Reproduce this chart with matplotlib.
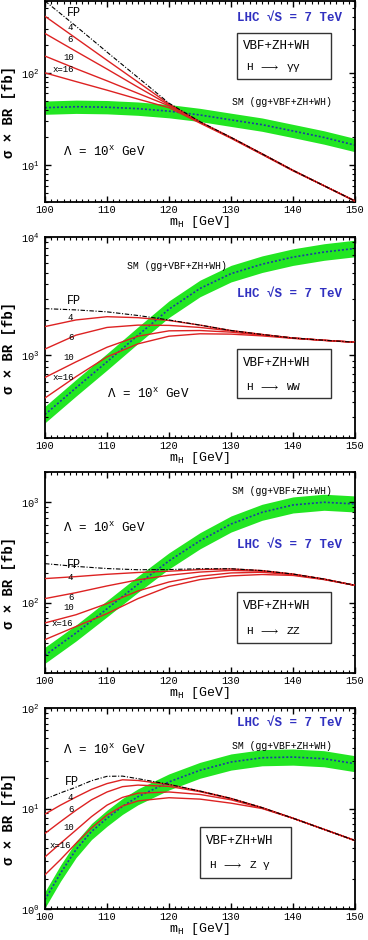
import matplotlib
matplotlib.use('Agg')
import matplotlib.pyplot as plt
from matplotlib.patches import Rectangle
from matplotlib.ticker import MultipleLocator, LogLocator, NullFormatter

plt.rcParams['font.family'] = ['Liberation Mono', 'DejaVu Sans Mono', 'DejaVu Sans']
plt.rcParams['mathtext.fontset'] = 'custom'
plt.rcParams['mathtext.rm'] = 'Liberation Mono'
plt.rcParams['mathtext.it'] = 'Liberation Mono'
plt.rcParams['mathtext.bf'] = 'Liberation Mono:bold'

# ---------------- data ----------------
mH = [100, 105, 110, 115, 120, 125, 130, 135, 140, 145, 150]
mH4 = [100, 102.5, 105, 107.5, 110, 112.5, 115, 120, 125, 130, 135, 140, 145, 150]
lam_labels = ['4', '6', '10', 'x=16']

# Panel 1: H -> gamma gamma
gg_fp = [600, 320, 168, 89, 47, 29.6, 20, 13.3, 8.8, 6.0, 4.1]
gg_x4 = [410, 237, 137, 79.5, 46, 29.5, 20, 13.3, 8.8, 6.0, 4.1]
gg_x6 = [267, 171, 110, 70, 45, 29.3, 19.9, 13.3, 8.8, 6.0, 4.1]
gg_x10 = [152, 111, 82, 60, 44, 29.0, 19.8, 13.2, 8.8, 6.0, 4.1]
gg_x16 = [100, 80.5, 65, 52, 42, 28.6, 19.6, 13.1, 8.7, 6.0, 4.1]
gg_sm = [42, 43, 42.5, 41, 38.5, 35, 31, 27.5, 23.5, 20, 16.5]
gg_sm_lo = [35.6, 36.4, 36.0, 34.7, 32.6, 29.7, 26.3, 23.3, 19.9, 16.9, 14.0]
gg_sm_hi = [49.6, 50.7, 50.2, 48.4, 45.4, 41.3, 36.6, 32.5, 27.7, 23.6, 19.5]

# Panel 2: H -> WW
ww_fp = [2480, 2420, 2330, 2170, 1990, 1800, 1620, 1500, 1400, 1340, 1290]
ww_x4 = [1750, 1990, 2120, 2080, 1970, 1800, 1620, 1500, 1400, 1340, 1290]
ww_x6 = [1130, 1480, 1720, 1800, 1790, 1720, 1610, 1500, 1400, 1340, 1290]
ww_x10 = [650, 880, 1170, 1450, 1610, 1620, 1570, 1480, 1400, 1340, 1290]
ww_x16 = [436, 660, 970, 1250, 1450, 1520, 1510, 1460, 1390, 1335, 1290]
ww_sm = [316, 531, 881, 1479, 2455, 3673, 4898, 5888, 6761, 7464, 7998]
ww_sm_lo = [269, 452, 750, 1259, 2089, 3126, 4169, 5011, 5754, 6352, 6807]
ww_sm_hi = [371, 624, 1035, 1738, 2885, 4316, 5755, 6918, 7944, 8770, 9398]

# Panel 3: H -> ZZ
zz_fp = [245, 230, 219, 213, 214, 218, 218, 209, 193, 172, 149]
zz_x4 = [174, 182, 192, 200, 206, 214, 217, 209, 193, 172, 149]
zz_x6 = [110, 126, 147, 169, 188, 202, 210, 206, 192, 172, 149]
zz_x10 = [63, 76, 98, 131, 161, 184, 198, 201, 190, 171, 149]
zz_x16 = [43, 58, 78, 110, 145, 170, 185, 191, 187, 170, 149]
zz_sm = [30, 50, 87, 153, 261, 414, 607, 794, 940, 1000, 962]
zz_sm_lo = [25.0, 41.6, 72.4, 127, 217, 344, 505, 661, 782, 832, 800]
zz_sm_hi = [36.1, 60.1, 105, 184, 314, 498, 730, 954, 1130, 1202, 1156]

# Panel 4: H -> Z gamma
zg_fp = [12.4, 14.3, 16.3, 18.9, 20.9, 21.0, 19.8, 17.4, 14.9, 12.6, 10.2, 8.0, 6.2, 4.8]
zg_x4 = [8.8, 10.8, 13.0, 15.5, 17.7, 19.3, 19.0, 17.3, 14.9, 12.6, 10.2, 8.0, 6.2, 4.8]
zg_x6 = [5.65, 7.4, 9.6, 12.2, 14.6, 16.5, 17.1, 16.6, 14.7, 12.5, 10.2, 8.0, 6.2, 4.8]
zg_x10 = [3.3, 4.5, 6.1, 8.3, 10.8, 12.9, 14.2, 14.6, 13.8, 12.2, 10.1, 8.0, 6.2, 4.8]
zg_x16 = [2.19, 3.1, 4.5, 6.4, 8.6, 10.6, 11.9, 12.8, 12.4, 11.3, 10.0, 8.0, 6.2, 4.8]
zg_sm = [1.24, 2.27, 3.9, 5.9, 8.0, 10.5, 13.1, 18.4, 24, 29, 32, 32.5, 31.3, 27.9]
zg_sm_lo = [1.03, 1.89, 3.24, 4.91, 6.66, 8.74, 10.9, 15.3, 20.0, 24.1, 26.6, 27.0, 26.0, 23.2]
zg_sm_hi = [1.49, 2.73, 4.69, 7.09, 9.62, 12.6, 15.7, 22.1, 28.8, 34.9, 38.5, 39.1, 37.6, 33.5]

panels = [
    dict(x=mH, fp=gg_fp, lines=[gg_x4, gg_x6, gg_x10, gg_x16], sm=gg_sm, lo=gg_sm_lo, hi=gg_sm_hi,
         ylim=(4, 600), decay=r'H $\longrightarrow$ γγ'),
    dict(x=mH, fp=ww_fp, lines=[ww_x4, ww_x6, ww_x10, ww_x16], sm=ww_sm, lo=ww_sm_lo, hi=ww_sm_hi,
         ylim=(200, 10000), decay=r'H $\longrightarrow$ WW'),
    dict(x=mH, fp=zz_fp, lines=[zz_x4, zz_x6, zz_x10, zz_x16], sm=zz_sm, lo=zz_sm_lo, hi=zz_sm_hi,
         ylim=(20, 2000), decay=r'H $\longrightarrow$ ZZ'),
    dict(x=mH4, fp=zg_fp, lines=[zg_x4, zg_x6, zg_x10, zg_x16], sm=zg_sm, lo=zg_sm_lo, hi=zg_sm_hi,
         ylim=(1, 100), decay=r'H $\longrightarrow$ Z γ'),
]

# ---------------- layout (pixel positions in the 368x940 figure) ----------------
W, H = 368, 940
AX_L, AX_R, AX_H = 45, 355, 201
tops = [1, 237, 472, 708]

text_pos = [
    dict(fp=(67, 13), lab=[(68, 27), (67, 40), (63, 57), (53, 70)], lhc=(237, 18), sm=(232, 102),
         lam=(63, 152), box=(237, 33, 331, 79)),
    dict(fp=(67, 301), lab=[(68, 318), (68, 337), (63, 358), (53, 377)], lhc=(237, 294), sm=(127, 266),
         lam=(107, 394), box=(237, 349, 331, 398)),
    dict(fp=(67, 565), lab=[(68, 577), (68, 597), (63, 608), (52, 623)], lhc=(237, 545), sm=(232, 491),
         lam=(63, 528), box=(237, 592, 331, 643)),
    dict(fp=(65, 782), lab=[(68, 797), (68, 810), (63, 828), (50, 845)], lhc=(237, 723), sm=(232, 746),
         lam=(63, 750), box=(200, 827, 291, 878)),
]

fig = plt.figure(figsize=(W / 100, H / 100), dpi=100)

RED = '#dd2222'
GREEN = '#22e622'
BLUE = '#1a3fa0'
LHCBLUE = '#3030c0'

for i, p in enumerate(panels):
    top = tops[i]
    ax = fig.add_axes([AX_L / W, 1 - (top + AX_H) / H, (AX_R - AX_L) / W, AX_H / H])
    ax.set_yscale('log')
    ax.set_xlim(100, 150)
    ax.set_ylim(*p['ylim'])

    ax.fill_between(p['x'], p['lo'], p['hi'], color=GREEN, lw=0, zorder=1)
    ax.plot(p['x'], p['sm'], color=BLUE, lw=1.2, ls=(0, (1.2, 1.2)), zorder=2)
    for ln in p['lines']:
        ax.plot(p['x'], ln, color=RED, lw=1.0, zorder=3)
    ax.plot(p['x'], p['fp'], color='black', lw=0.8, ls=(0, (4, 1.5, 1, 1.5)), zorder=4)

    def fx(x):
        return (x - AX_L) / (AX_R - AX_L)

    def fy(y):
        return (top + AX_H - y) / AX_H

    tp = text_pos[i]
    ax.text(fx(tp['fp'][0]), fy(tp['fp'][1]), 'FP', transform=ax.transAxes, fontsize=8.5,
            ha='left', va='center', zorder=6)
    for lab, (lx, ly) in zip(lam_labels, tp['lab']):
        ax.text(fx(lx), fy(ly), lab, transform=ax.transAxes, fontsize=6.5, ha='left', va='center', zorder=6)
    ax.text(fx(tp['lhc'][0]), fy(tp['lhc'][1]), 'LHC √S = 7 TeV', transform=ax.transAxes, fontsize=9,
            color=LHCBLUE, fontweight='bold', ha='left', va='center', zorder=6)
    ax.text(fx(tp['sm'][0]), fy(tp['sm'][1]), 'SM (gg+VBF+ZH+WH)', transform=ax.transAxes, fontsize=7,
            ha='left', va='center', zorder=6)
    ax.text(fx(tp['lam'][0]), fy(tp['lam'][1]), r'Λ = 10$^{\mathregular{x}}$ GeV', transform=ax.transAxes,
            fontsize=9, ha='left', va='center', zorder=6)
    bx0, by0, bx1, by1 = tp['box']
    ax.add_patch(Rectangle((fx(bx0), fy(by1)), fx(bx1) - fx(bx0), fy(by0) - fy(by1),
                           transform=ax.transAxes, facecolor='white', edgecolor='#333333', lw=1.0, zorder=5))
    ax.text(fx(bx0 + 6), fy(by0 + 0.28 * (by1 - by0)), 'VBF+ZH+WH', transform=ax.transAxes, fontsize=9,
            ha='left', va='center', zorder=6)
    ax.text(fx(bx0 + 9), fy(by0 + 0.76 * (by1 - by0)), p['decay'], transform=ax.transAxes, fontsize=8,
            ha='left', va='center', zorder=6)

    ax.xaxis.set_major_locator(MultipleLocator(10))
    ax.xaxis.set_minor_locator(MultipleLocator(1))
    ax.yaxis.set_major_locator(LogLocator(base=10, numticks=10))
    ax.yaxis.set_minor_locator(LogLocator(base=10, subs=range(2, 10), numticks=20))
    ax.yaxis.set_minor_formatter(NullFormatter())
    ax.tick_params(which='both', direction='in', top=True, right=True, labelsize=7.5)
    ax.tick_params(which='major', length=4, width=1.0)
    ax.tick_params(which='minor', length=2, width=0.8)
    ax.tick_params(axis='x', pad=2)
    ax.tick_params(axis='y', pad=4)
    for s in ax.spines.values():
        s.set_linewidth(1.3)

    ax.set_xlabel(r'm$_{\mathregular{H}}$ [GeV]', fontsize=9.5, labelpad=-0.5)
    ax.set_ylabel('σ × BR [fb]', fontsize=10, fontweight='bold')
    ax.yaxis.set_label_coords(-0.095, 0.45)

fig.savefig('out.png', dpi=100)
